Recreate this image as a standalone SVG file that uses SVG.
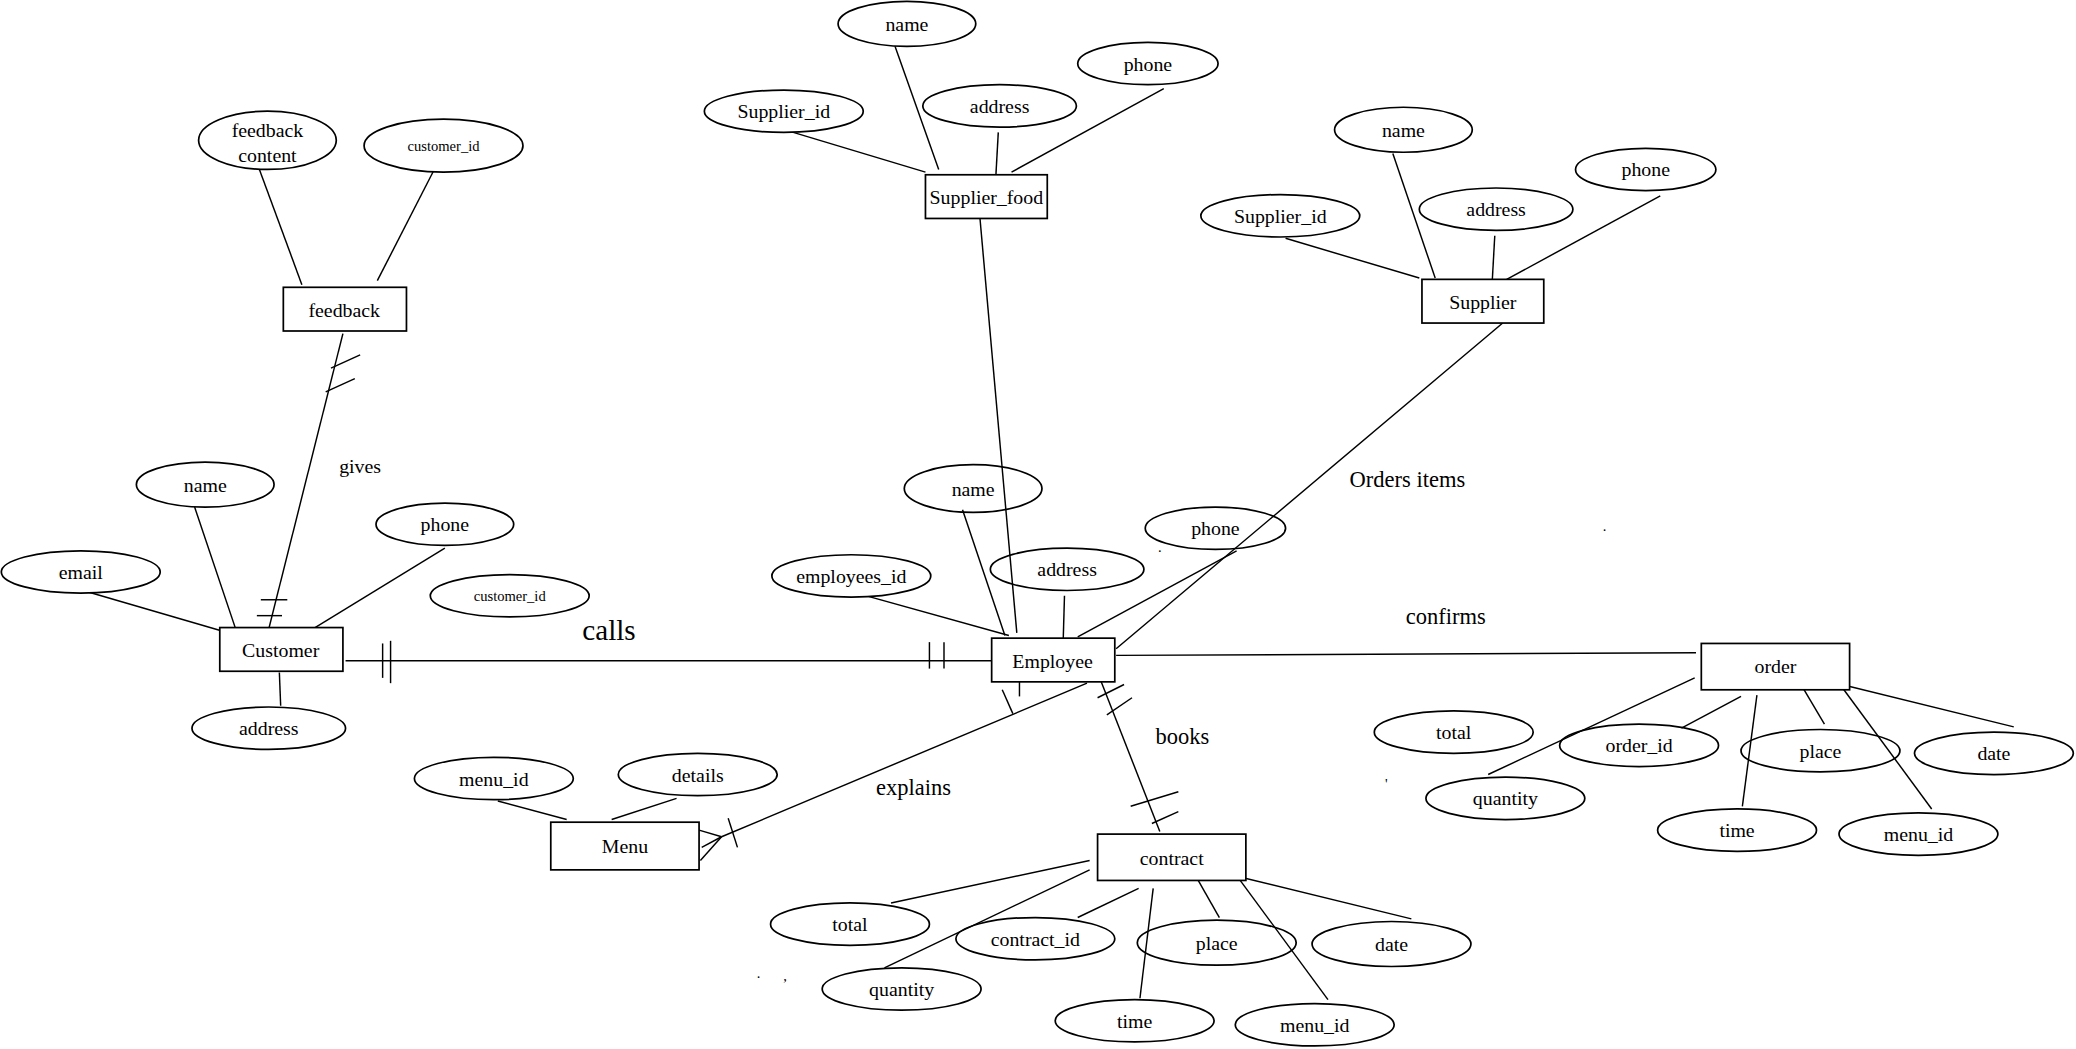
<svg xmlns="http://www.w3.org/2000/svg" width="2076" height="1049" viewBox="0 0 2076 1049">
<style>
ellipse,rect{fill:#fff;stroke:#000;stroke-width:1.3}
line{stroke:#000;stroke-width:1.1}
text{font-family:"Liberation Serif","Times New Roman","DejaVu Serif",serif;font-size:15px;text-anchor:middle;dominant-baseline:central;fill:#000}
.s{font-size:11px}
.l{font-size:17px}
.n{fill:none}
</style>
<rect x="0" y="0" width="2076" height="1049" style="fill:#fff;stroke:none"/>
<g transform="scale(1.32398)">
<g id="connectors">
<line x1="228" y1="215" x2="193" y2="120"/><line x1="285" y1="212" x2="328" y2="128"/>
<line x1="259" y1="252" x2="203" y2="475"/>
<line x1="250" y1="278" x2="272" y2="268"/><line x1="246" y1="296" x2="268" y2="286"/>
<line x1="197" y1="453" x2="217" y2="453"/><line x1="194" y1="465" x2="213" y2="465"/>
<line x1="147" y1="383" x2="179" y2="478"/><line x1="66" y1="447" x2="169" y2="477"/>
<line x1="336" y1="414" x2="233" y2="477"/><line x1="211" y1="508" x2="212" y2="533"/>
<line x1="261" y1="499" x2="749" y2="499"/>
<line x1="289" y1="486" x2="289" y2="512"/><line x1="295" y1="484" x2="295" y2="516"/>
<line x1="702" y1="485" x2="702" y2="505"/><line x1="713" y1="485" x2="713" y2="505"/>
<line x1="727" y1="385" x2="759" y2="480"/><line x1="647" y1="448" x2="762" y2="480"/>
<line x1="804" y1="450" x2="803" y2="485"/><line x1="934" y1="416" x2="814" y2="481"/>
<line x1="1135" y1="244" x2="843" y2="490"/><line x1="740" y1="163" x2="768" y2="478"/>
<line x1="676" y1="35" x2="709" y2="128"/><line x1="596" y1="99" x2="699" y2="130"/>
<line x1="754" y1="100" x2="752" y2="136"/><line x1="879" y1="67" x2="764" y2="130"/>
<line x1="1052" y1="116" x2="1084" y2="210"/><line x1="971" y1="180" x2="1072" y2="210"/>
<line x1="1129" y1="178" x2="1127" y2="214"/><line x1="1254" y1="148" x2="1138" y2="211"/>
<line x1="843" y1="495" x2="1281" y2="493"/>
<line x1="1315" y1="526" x2="1270" y2="550"/><line x1="1362" y1="520" x2="1378" y2="547"/>
<line x1="1391" y1="517" x2="1521" y2="549"/><line x1="1280" y1="512" x2="1124" y2="585"/>
<line x1="1327" y1="525" x2="1316" y2="609"/><line x1="1392" y1="520" x2="1459" y2="611"/>
<line x1="831" y1="513" x2="876" y2="628"/>
<line x1="829" y1="527" x2="849" y2="517"/><line x1="836" y1="540" x2="855" y2="527"/>
<line x1="854" y1="609" x2="890" y2="598"/><line x1="870" y1="622" x2="890" y2="613"/>
<line x1="673" y1="682" x2="823" y2="650"/><line x1="814" y1="693" x2="860" y2="671"/>
<line x1="905" y1="665" x2="921" y2="693"/><line x1="935" y1="662" x2="1066" y2="694"/>
<line x1="668" y1="731" x2="823" y2="657"/><line x1="871" y1="671" x2="861" y2="754"/>
<line x1="936" y1="664" x2="1003" y2="755"/>
<line x1="545" y1="632" x2="821" y2="516"/>
<line x1="528" y1="627" x2="545" y2="632"/><line x1="530" y1="640" x2="545" y2="632"/><line x1="529" y1="650" x2="545" y2="632"/>
<line x1="550" y1="618" x2="557" y2="640"/><line x1="757" y1="521" x2="765" y2="539"/>
<line x1="770" y1="514" x2="770" y2="526"/>
<line x1="376" y1="605" x2="428" y2="619"/><line x1="511" y1="603" x2="462" y2="619"/>
</g>
<g id="labels">
<text x="272" y="352">gives</text>
<text x="460" y="476" style="font-size:22px">calls</text>
<text x="1063" y="362" class="l">Orders items</text>
<text x="1092" y="466" class="l">confirms</text>
<text x="893" y="556" class="l">books</text>
<text x="690" y="595" class="l">explains</text>
<text x="876" y="413" class="s">.</text><text x="1212" y="397" class="s">.</text>
<text x="1047" y="592" class="s">'</text><text x="573" y="735" class="s">.</text><text x="593" y="737" class="s">,</text>
</g>
<g id="feedback"><rect x="214" y="217" width="93" height="33"/><text x="260" y="234">feedback</text></g>
<g id="fb_content"><ellipse cx="202" cy="106" rx="52" ry="22"/><text x="202" y="98">feedback</text><text x="202" y="117">content</text></g>
<g id="fb_customer_id"><ellipse cx="335" cy="110" rx="60" ry="20"/><text x="335" y="110" class="s">customer_id</text></g>
<g id="customer"><rect x="166" y="474" width="93" height="33"/><text x="212" y="491">Customer</text></g>
<g id="c_name"><ellipse cx="155" cy="366" rx="52" ry="17"/><text x="155" y="366">name</text></g>
<g id="c_email"><ellipse cx="61" cy="432" rx="60" ry="16"/><text x="61" y="432">email</text></g>
<g id="c_phone"><ellipse cx="336" cy="396" rx="52" ry="16"/><text x="336" y="396">phone</text></g>
<g id="c_id"><ellipse cx="385" cy="450" rx="60" ry="16"/><text x="385" y="450" class="s">customer_id</text></g>
<g id="c_address"><ellipse cx="203" cy="550" rx="58" ry="16"/><text x="203" y="550">address</text></g>
<g id="employee"><rect x="749" y="482" width="93" height="33"/><text x="795" y="499">Employee</text></g>
<g id="e_name"><ellipse class="n" cx="735" cy="369" rx="52" ry="18"/><text x="735" y="369">name</text></g>
<g id="e_id"><ellipse cx="643" cy="435" rx="60" ry="16"/><text x="643" y="435">employees_id</text></g>
<g id="e_address"><ellipse class="n" cx="806" cy="430" rx="58" ry="16"/><text x="806" y="430">address</text></g>
<g id="e_phone"><ellipse class="n" cx="918" cy="399" rx="53" ry="16"/><text x="918" y="399">phone</text></g>
<g id="supplier_food"><rect x="699" y="132" width="92" height="33"/><text x="745" y="149">Supplier_food</text></g>
<g id="sf_name"><ellipse cx="685" cy="18" rx="52" ry="17"/><text x="685" y="18">name</text></g>
<g id="sf_id"><ellipse cx="592" cy="84" rx="60" ry="16"/><text x="592" y="84">Supplier_id</text></g>
<g id="sf_address"><ellipse cx="755" cy="80" rx="58" ry="16"/><text x="755" y="80">address</text></g>
<g id="sf_phone"><ellipse cx="867" cy="48" rx="53" ry="16"/><text x="867" y="48">phone</text></g>
<g id="supplier"><rect x="1074" y="211" width="92" height="33"/><text x="1120" y="228">Supplier</text></g>
<g id="s_name"><ellipse cx="1060" cy="98" rx="52" ry="17"/><text x="1060" y="98">name</text></g>
<g id="s_id"><ellipse cx="967" cy="163" rx="60" ry="16"/><text x="967" y="163">Supplier_id</text></g>
<g id="s_address"><ellipse cx="1130" cy="158" rx="58" ry="16"/><text x="1130" y="158">address</text></g>
<g id="s_phone"><ellipse cx="1243" cy="128" rx="53" ry="16"/><text x="1243" y="128">phone</text></g>
<g id="order"><rect x="1285" y="486" width="112" height="35"/><text x="1341" y="503">order</text></g>
<g id="o_total"><ellipse cx="1098" cy="553" rx="60" ry="16"/><text x="1098" y="553">total</text></g>
<g id="o_id"><ellipse class="n" cx="1238" cy="563" rx="60" ry="16"/><text x="1238" y="563">order_id</text></g>
<g id="o_place"><ellipse class="n" cx="1375" cy="567" rx="60" ry="16"/><text x="1375" y="567">place</text></g>
<g id="o_date"><ellipse cx="1506" cy="569" rx="60" ry="16"/><text x="1506" y="569">date</text></g>
<g id="o_quantity"><ellipse cx="1137" cy="603" rx="60" ry="16"/><text x="1137" y="603">quantity</text></g>
<g id="o_time"><ellipse cx="1312" cy="627" rx="60" ry="16"/><text x="1312" y="627">time</text></g>
<g id="o_menu_id"><ellipse cx="1449" cy="630" rx="60" ry="16"/><text x="1449" y="630">menu_id</text></g>
<g id="contract"><rect x="829" y="630" width="112" height="35"/><text x="885" y="648">contract</text></g>
<g id="k_total"><ellipse cx="642" cy="698" rx="60" ry="16"/><text x="642" y="698">total</text></g>
<g id="k_id"><ellipse class="n" cx="782" cy="709" rx="60" ry="16"/><text x="782" y="709">contract_id</text></g>
<g id="k_place"><ellipse class="n" cx="919" cy="712" rx="60" ry="17"/><text x="919" y="712">place</text></g>
<g id="k_date"><ellipse cx="1051" cy="713" rx="60" ry="17"/><text x="1051" y="713">date</text></g>
<g id="k_quantity"><ellipse cx="681" cy="747" rx="60" ry="16"/><text x="681" y="747">quantity</text></g>
<g id="k_time"><ellipse cx="857" cy="771" rx="60" ry="16"/><text x="857" y="771">time</text></g>
<g id="k_menu_id"><ellipse cx="993" cy="774" rx="60" ry="16"/><text x="993" y="774">menu_id</text></g>
<g id="menu"><rect x="416" y="621" width="112" height="36"/><text x="472" y="639">Menu</text></g>
<g id="m_id"><ellipse cx="373" cy="588" rx="60" ry="16"/><text x="373" y="588">menu_id</text></g>
<g id="m_details"><ellipse cx="527" cy="585" rx="60" ry="16"/><text x="527" y="585">details</text></g>
</g>
</svg>
